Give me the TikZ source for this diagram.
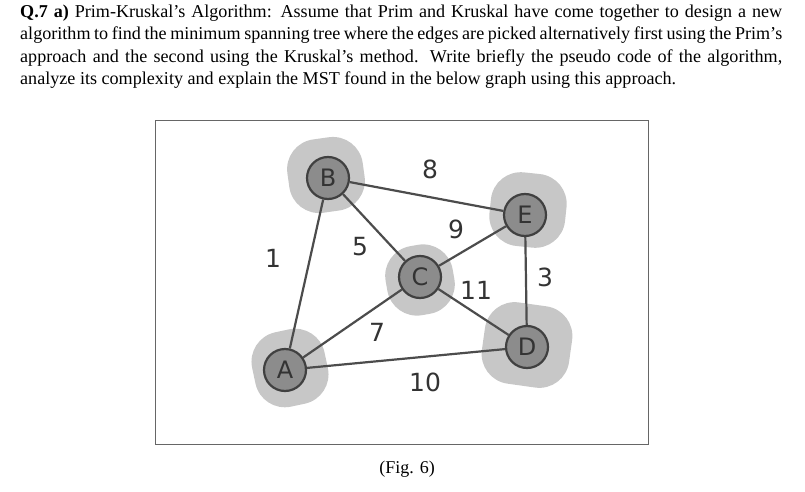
\documentclass[tikz,border=0pt]{standalone}
\usepackage{fontspec}
\setmainfont{Liberation Serif}
\newfontfamily\grfont{DejaVu Sans}
\begin{document}
\begin{tikzpicture}[x=1pt,y=-1pt,
  blob/.style={fill=black!22,draw=none,rounded corners=30pt,minimum width=76pt,minimum height=74pt,inner sep=0pt},
  vert/.style={circle,draw=black!75,line width=2.2pt,fill=black!45,minimum size=42pt,inner sep=0pt,font=\grfont\fontsize{24}{24}\selectfont,text=black!80},
  edge/.style={draw=black!70,line width=2.2pt},
  wt/.style={font=\grfont\fontsize{25}{25}\selectfont,text=black!80}]
\useasboundingbox (0,0) rectangle (805,492);
\node[anchor=north west,text width=762pt,align=justify,inner sep=0pt,font=\fontsize{18.1}{22.2}\selectfont] (q) at (20,5)
{\hyphenpenalty=10000\exhyphenpenalty=10000\textbf{Q.7 a)} Prim-Kruskal's Algorithm: Assume that Prim and Kruskal have come together to design a new algorithm to find the minimum spanning tree where the edges are picked alternatively first using the Prim's approach and the second using the Kruskal's method. Write briefly the pseudo code of the algorithm, analyze its complexity and explain the MST found in the below graph using this approach.};
\node[draw=black!60,line width=0.8pt,minimum width=493pt,minimum height=324pt,inner sep=0pt] (frame) at (401.5,282) {};
\node[blob,rotate=8] (bB) at (326,175) {};
\node[blob,rotate=-6] (bE) at (528,210) {};
\node[blob,rotate=10,minimum width=68pt,minimum height=70pt] (bC) at (420,280) {};
\node[blob,rotate=-8,minimum width=88pt,minimum height=82pt] (bD) at (527,345) {};
\node[blob,rotate=12,minimum width=74pt,minimum height=76pt] (bA) at (290,368) {};
\node[vert] (B) at (328,178) {B};
\node[vert] (E) at (525,215) {E};
\node[vert] (C) at (420,277) {C};
\node[vert] (D) at (527,347) {D};
\node[vert] (A) at (285,370) {A};
\path[edge] (B) -- (E) (B) -- (C) (B) -- (A) (C) -- (E) (C) -- (D) (C) -- (A) (E) -- (D) (A) -- (D);
\node[wt] (w8) at (430,169) {8};
\node[wt] (w9) at (456,229) {9};
\node[wt] (w5) at (360,247) {5};
\node[wt] (w1) at (273,258) {1};
\node[wt] (w11) at (476,290) {11};
\node[wt] (w3) at (545,277) {3};
\node[wt] (w7) at (377,332) {7};
\node[wt] (w10) at (425,382) {10};
\node[font=\fontsize{18}{20}\selectfont] (cap) at (407,469) {(Fig. 6)};
\end{tikzpicture}
\end{document}
